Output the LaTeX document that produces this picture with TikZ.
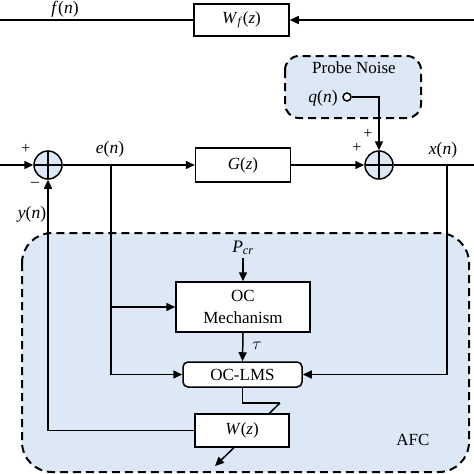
\documentclass[tikz,border=0pt]{standalone}
\usepackage{fontspec}
\setmainfont{Liberation Serif}
\usetikzlibrary{arrows.meta}
\definecolor{bluefill}{RGB}{220,232,245}
\newcommand{\vv}[1]{\textit{#1}}
\tikzset{
  lw/.style={line width=1.5pt},
  arr/.style={lw,-{Triangle[length=9pt,width=8pt]}},
  blk/.style={draw,lw,fill=white,inner sep=0pt,font=\fontsize{17}{20}\selectfont},
  sumnode/.style={circle,draw,lw,fill=bluefill,minimum size=28pt,inner sep=0pt,
    path picture={\draw[lw] (path picture bounding box.north) -- (path picture bounding box.south)
      (path picture bounding box.west) -- (path picture bounding box.east);}},
  grp/.style={draw,line width=2pt,dash pattern=on 8pt off 5pt,fill=bluefill},
  lbl/.style={inner sep=0pt,font=\fontsize{17.5}{19}\selectfont},
  txt/.style={inner sep=0pt,font=\fontsize{17}{20}\selectfont},
  sgn/.style={inner sep=0pt,font=\fontsize{16}{18}\selectfont}
}
\begin{document}
\begin{tikzpicture}[x=1pt,y=-1pt]
\useasboundingbox (0,0) rectangle (474,474);
% groups
\draw[grp,rounded corners=30pt] (22,233) rectangle (469,472);
\draw[grp,rounded corners=14pt] (285,56) rectangle (421,118);
\node[txt] (afc) at (413,440) {AFC};
\node[txt] (probe) at (354,68) {Probe Noise};
% diagonal adaptation arrow (behind W(z))
\coordinate (d1) at (280,403);
\coordinate (d2) at (215,466);
\draw[arr] (d1) -- (d2);
% blocks
\node[blk,minimum width=95pt,minimum height=32pt] (wf) at (241.5,20) {\vv{W}\textsubscript{\vv{f}}(\vv{z})};
\node[blk,minimum width=95pt,minimum height=34pt] (g) at (243,165) {\vv{G}(\vv{z})};
\node[blk,minimum width=134pt,minimum height=50pt,align=center] (ocm) at (243,307) {OC\\[2pt]Mechanism};
\node[blk,rounded corners=5pt,minimum width=119pt,minimum height=25pt] (lms) at (242.5,374.5) {OC-LMS};
\node[blk,minimum width=94pt,minimum height=33pt] (wz) at (242,430.5) {\vv{W}(\vv{z})};
\node[sumnode] (s1) at (48,165) {};
\node[sumnode] (s2) at (379,165) {};
\node[circle,draw,lw,fill=white,minimum size=8pt,inner sep=0pt] (qc) at (347,97) {};
% coordinates
\coordinate (fl) at (0,20);
\coordinate (fr) at (474,20);
\coordinate (in) at (0,165);
\coordinate (eb) at (111,165);
\coordinate (xb) at (447,165);
\coordinate (out) at (474,165);
% labels
\node[lbl] (fn) at (65,9) {\vv{f}(\vv{n})};
\node[lbl] (en) at (110,149) {\vv{e}(\vv{n})};
\node[lbl] (xn) at (443,150) {\vv{x}(\vv{n})};
\node[lbl] (yn) at (32,214) {\vv{y}(\vv{n})};
\node[lbl] (qn) at (323,98) {\vv{q}(\vv{n})};
\node[lbl] (pcr) at (243,248) {\vv{P}\textsubscript{\vv{cr}}};
\node[lbl] (tau) at (257,346) {$\tau$};
\node[sgn] (p1) at (26,149) {+};
\node[sgn] (m1) at (35,184) {\textendash};
\node[sgn] (p2) at (357,148) {+};
\node[sgn] (p3) at (368,134) {+};
% connectors
\draw[lw] (fl) -- (wf.west);
\draw[arr] (fr) -- (wf.east);
\draw[arr] (in) -- (s1.west);
\draw[lw] (s1.east) -- (eb);
\draw[arr] (eb) -- (g.west);
\draw[arr] (g.east) -- (s2.west);
\draw[lw] (s2.east) -- (out);
\draw[arr] (qc.east) -| (s2.north);
\draw[arr] (eb) |- (ocm.west);
\draw[arr] (eb) |- (lms.west);
\draw[arr] (pcr.south) ++(0,3) -- (ocm.north);
\draw[arr] (ocm.south) -- (lms.north);
\draw[arr] (xb) |- (lms.east);
\draw[arr] (wz.west) -| (s1.south);
\draw[lw] (lms.south) |- (d1);
\end{tikzpicture}
\end{document}
